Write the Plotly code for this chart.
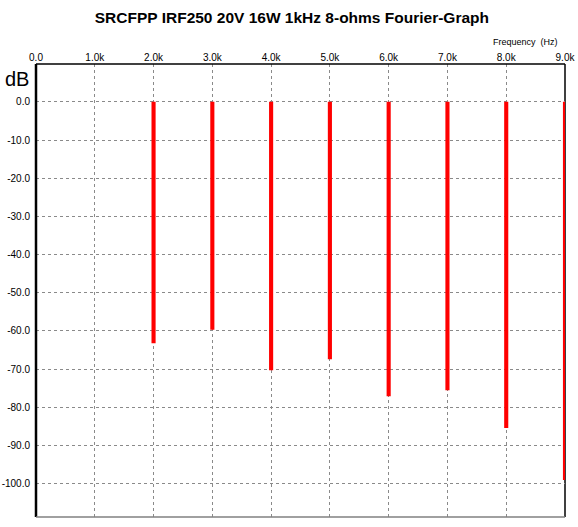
import plotly.graph_objects as go

# harmonic spectrum
freq_hz = [1000, 2000, 3000, 4000, 5000, 6000, 7000, 8000, 9000]
level_db = [0.0, -63.2, -59.7, -70.3, -67.4, -77.1, -75.5, -85.4, -99.0]

x_ticks = [0, 1000, 2000, 3000, 4000, 5000, 6000, 7000, 8000, 9000]
x_labels = ["0.0", "1.0k", "2.0k", "3.0k", "4.0k", "5.0k", "6.0k", "7.0k", "8.0k", "9.0k"]
y_ticks = [0, -10, -20, -30, -40, -50, -60, -70, -80, -90, -100]
y_labels = ["0.0", "-10.0", "-20.0", "-30.0", "-40.0", "-50.0", "-60.0", "-70.0", "-80.0", "-90.0", "-100.0"]

fig = go.Figure()
fig.add_trace(go.Bar(
    x=freq_hz, y=level_db, base=0, width=70,
    marker=dict(color="#ff0000", line=dict(width=0)),
    cliponaxis=False,
    hoverinfo="x+y",
))

font = "Liberation Sans, Arial, sans-serif"
fig.update_layout(
    title=dict(text="<b>SRCFPP IRF250 20V 16W 1kHz 8-ohms Fourier-Graph</b>",
               x=0.505, xanchor="center", y=0.967, yanchor="middle",
               font=dict(family=font, size=15.5, color="black")),
    width=578, height=527,
    margin=dict(l=36, r=13, t=64, b=10),
    plot_bgcolor="rgba(0,0,0,0)", paper_bgcolor="white",
    showlegend=False,
    font=dict(family=font, size=10, color="black"),
    xaxis=dict(
        side="top", range=[0, 9000], automargin=False,
        tickvals=x_ticks, ticktext=x_labels,
        showgrid=True, gridcolor="#8a8a8a", griddash="dot", gridwidth=1,
        showline=False, zeroline=False, ticks="", ticklen=0,
    ),
    yaxis=dict(
        range=[-108.7, 9.9], automargin=False,
        tickvals=y_ticks, ticktext=y_labels,
        showgrid=True, gridcolor="#8a8a8a", griddash="dot", gridwidth=1,
        showline=False, zeroline=False, ticks="", ticklabelstandoff=5,
    ),
    annotations=[
        dict(text="dB", xref="paper", yref="paper", x=-0.01, y=0.967,
             xanchor="right", yanchor="middle", showarrow=False,
             font=dict(family=font, size=20, color="black")),
        dict(text="Frequency&nbsp;&nbsp;(Hz)", xref="paper", yref="paper",
             x=0.99, y=1.049, xanchor="right", yanchor="middle", showarrow=False,
             font=dict(family=font, size=9, color="black")),
    ],
    shapes=[
        dict(type="line", xref="paper", yref="paper", x0=0, x1=1, y0=1, y1=1,
             line=dict(color="black", width=1.5)),
        dict(type="line", xref="paper", yref="paper", x0=0, x1=0, y0=0, y1=1,
             line=dict(color="black", width=2.5)),
        dict(type="line", xref="paper", yref="paper", x0=1, x1=1, y0=0, y1=1,
             line=dict(color="black", width=1.5), layer="below"),
        dict(type="line", xref="paper", yref="paper", x0=0, x1=1, y0=0, y1=0,
             line=dict(color="#808080", width=1.5)),
    ],
)

# page has a default 8px body margin, drop it so the figure fills the window
fig.write_html("out.html", config={"displayModeBar": False},
               post_script="document.body.style.margin='0';")
